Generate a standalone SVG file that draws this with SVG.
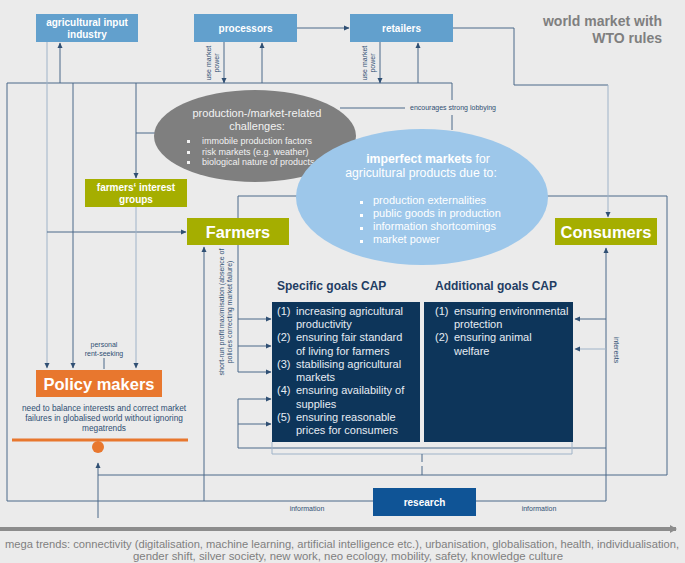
<svg xmlns="http://www.w3.org/2000/svg" width="685" height="563" viewBox="0 0 685 563">
<defs>
<marker id="ah" markerWidth="6" markerHeight="6" refX="5" refY="3" orient="auto" markerUnits="userSpaceOnUse">
<path d="M0,0.5 L5.5,3 L0,5.5 Z" fill="#2f4f73"/>
</marker>
<marker id="big" markerWidth="10" markerHeight="10" refX="6" refY="5" orient="auto" markerUnits="userSpaceOnUse">
<path d="M0,1 L7,5 L0,9 Z" fill="#8c8c8c"/>
</marker>
<style>
.ln{stroke:#4a6889;stroke-width:1;fill:none}
.lt{stroke:#9fb3c8;stroke-width:1;fill:none}
.ar{marker-end:url(#ah)}
.bx{fill:#62a0cd}
.ol{fill:#a5ae00}
.t{font-family:"Liberation Sans",Arial,sans-serif}
.wb{fill:#fff;font-weight:bold;text-anchor:middle}
.sm{fill:#2f4f73;font-size:7px}
.gt{fill:#e6ecf3;font-size:11px}
.hd{fill:#1f3d63;font-size:12px;font-weight:bold}
</style>
</defs>
<rect width="685" height="563" fill="#ebebeb"/>

<g id="connectors">
<path class="ln" d="M7,83 H452 V100 M452,115 V130"/>
<path class="ln" d="M7,83 V501 H373 M476,501 H606"/>
<path class="ln ar" d="M606,501 V248"/>
<path class="ln ar" d="M606,319 H575"/>
<path class="lt ar" d="M606,349 H575"/>
<path class="ln" d="M606,448 H238 V399"/>
<path class="ln ar" d="M238,399 H271"/>
<path class="ln ar" d="M238,424 H271"/>
<path class="ln" d="M238,245 V372"/>
<path class="ln ar" d="M238,319 H271"/>
<path class="ln ar" d="M238,346 H271"/>
<path class="ln ar" d="M238,372 H271"/>
<path class="ln ar" d="M204,501 V247"/>
<path class="ln" d="M238,218 V196 H667 V475 H98"/>
<path class="ln ar" d="M98,518 V463"/>
<path class="lt" d="M272,442 V454 H572 V442"/>
<path class="ln" d="M422,454 V462 M422,466 V475"/>
<path class="ln ar" d="M60,83 V43"/>
<path class="lt ar" d="M47,42 V368"/>
<path class="ln ar" d="M47,232 H186"/>
<path class="ln ar" d="M73,83 V368"/>
<path class="ln ar" d="M136,83 V178"/>
<path class="lt ar" d="M136,207 V368"/>
<path class="ln" d="M136,133 H158"/>
<path class="ln ar" d="M224,42 V83"/>
<path class="ln ar" d="M262,83 V43"/>
<path class="ln ar" d="M380,42 V83"/>
<path class="ln ar" d="M418,83 V43"/>
<path class="ln ar" d="M297,28 H349"/>
<path class="ln" d="M453,28 H514 V85 H608"/>
<path class="lt ar" d="M608,85 V217"/>
<path class="ln" d="M340,108 H405"/>
<path class="ln" d="M104,358 V369"/>
<path d="M0,529 H676" stroke="#8c8c8c" stroke-width="4" marker-end="url(#big)"/>
</g>

<g id="challenges">
<ellipse cx="255" cy="136" rx="101" ry="46" fill="#7f7f7f"/>
<text class="t" fill="#f2f2f2" font-size="11" text-anchor="middle"><tspan x="257" y="117">production-/market-related</tspan><tspan x="257" y="130">challenges:</tspan></text>
<g class="t" fill="#f2f2f2" font-size="9">
<rect x="187" y="140" width="3" height="3"/><text x="202" y="144">immobile production factors</text>
<rect x="187" y="151" width="3" height="3"/><text x="202" y="155">risk markets (e.g. weather)</text>
<rect x="187" y="161" width="3" height="3"/><text x="202" y="165">biological nature of products</text>
</g>
</g>

<g id="imperfect">
<ellipse cx="422" cy="197" rx="126" ry="68" fill="#9dc7ea"/>
<text class="t" fill="#fff" font-size="12.3" text-anchor="middle"><tspan x="428" y="163"><tspan font-weight="bold">imperfect markets</tspan> for</tspan><tspan x="421" y="177">agricultural products due to:</tspan></text>
<g class="t" fill="#fff" font-size="11">
<rect x="360" y="201" width="3" height="3"/><text x="373" y="204">production externalities</text>
<rect x="360" y="214" width="3" height="3"/><text x="373" y="217">public goods in production</text>
<rect x="360" y="227" width="3" height="3"/><text x="373" y="230">information shortcomings</text>
<rect x="360" y="240" width="3" height="3"/><text x="373" y="243">market power</text>
</g>
</g>

<g id="agri-input">
<rect class="bx" x="36" y="14" width="102" height="28"/>
<text class="t wb" font-size="10"><tspan x="87" y="26">agricultural input</tspan><tspan x="87" y="38">industry</tspan></text>
</g>
<g id="processors">
<rect class="bx" x="194" y="14" width="103" height="28"/>
<text class="t wb" font-size="10" x="245.5" y="32">processors</text>
</g>
<g id="retailers">
<rect class="bx" x="350" y="14" width="103" height="28"/>
<text class="t wb" font-size="10" x="401.5" y="32">retailers</text>
</g>
<g id="world-market">
<text class="t" fill="#7f7f7f" font-size="14" font-weight="bold" text-anchor="end"><tspan x="662" y="26">world market with</tspan><tspan x="662" y="43">WTO rules</tspan></text>
</g>

<g id="labels" class="t">
<text class="sm" text-anchor="middle" transform="translate(210.5,63) rotate(-90)"><tspan x="0" y="0">use market</tspan><tspan x="0" y="8">power</tspan></text>
<text class="sm" text-anchor="middle" transform="translate(366.5,63) rotate(-90)"><tspan x="0" y="0">use market</tspan><tspan x="0" y="8">power</tspan></text>
<text class="sm" x="410" y="110">encourages strong lobbying</text>
<text class="sm" text-anchor="middle" transform="translate(223.5,312) rotate(-90)"><tspan x="0" y="0">short-run profit maximisation (absence of</tspan><tspan x="0" y="8.5">policies correcting market failure)</tspan></text>
<text class="sm" text-anchor="middle" transform="translate(614,350) rotate(90)">interests</text>
<text class="sm" text-anchor="middle"><tspan x="104" y="347">personal</tspan><tspan x="104" y="356">rent-seeking</tspan></text>
<text class="sm" x="307" y="511" text-anchor="middle">information</text>
<text class="sm" x="539" y="511" text-anchor="middle">information</text>
</g>

<g id="interest-groups">
<rect class="ol" x="85" y="179" width="102" height="28"/>
<text class="t wb" font-size="10"><tspan x="136" y="191">farmers‘ interest</tspan><tspan x="136" y="203">groups</tspan></text>
</g>
<g id="farmers">
<rect class="ol" x="187" y="218" width="102" height="27"/>
<text class="t wb" font-size="16.3" x="238" y="237.5">Farmers</text>
</g>
<g id="consumers">
<rect class="ol" x="555" y="218" width="102" height="27"/>
<text class="t wb" font-size="16.5" x="606" y="237.5">Consumers</text>
</g>

<g id="policy-makers">
<rect x="36" y="370" width="126" height="27" fill="#e8772e"/>
<text class="t wb" font-size="16.5" x="99" y="389.5">Policy makers</text>
<text class="t" fill="#2f4f73" font-size="8.3" text-anchor="middle"><tspan x="104" y="411">need to balance interests and correct market</tspan><tspan x="104" y="421">failures in globalised world without ignoring</tspan><tspan x="104" y="431">megatrends</tspan></text>
<rect x="12" y="438.5" width="176" height="3" fill="#e8772e"/>
<circle cx="98" cy="447" r="6" fill="#e8772e"/>
</g>

<g id="specific-goals">
<text class="t hd" x="277" y="290">Specific goals CAP</text>
<rect x="272" y="302" width="148" height="140" fill="#0d355a"/>
<g class="t gt">
<text x="277" y="315">(1)</text><text x="296" y="315">increasing agricultural</text>
<text x="296" y="328">productivity</text>
<text x="277" y="341">(2)</text><text x="296" y="341">ensuring fair standard</text>
<text x="296" y="355">of living for farmers</text>
<text x="277" y="368">(3)</text><text x="296" y="368">stabilising agricultural</text>
<text x="296" y="381">markets</text>
<text x="277" y="394">(4)</text><text x="296" y="394">ensuring availability of</text>
<text x="296" y="408">supplies</text>
<text x="277" y="421">(5)</text><text x="296" y="421">ensuring reasonable</text>
<text x="296" y="434">prices for consumers</text>
</g>
</g>

<g id="additional-goals">
<text class="t hd" x="435" y="290">Additional goals CAP</text>
<rect x="424" y="302" width="149" height="140" fill="#0d355a"/>
<g class="t gt">
<text x="435" y="315">(1)</text><text x="454" y="315">ensuring environmental</text>
<text x="454" y="328">protection</text>
<text x="435" y="341">(2)</text><text x="454" y="341">ensuring animal</text>
<text x="454" y="355">welfare</text>
</g>
</g>

<g id="research">
<rect x="373" y="488" width="103" height="28" fill="#0f5496"/>
<text class="t wb" font-size="10" x="424.5" y="505.5">research</text>
</g>

<g id="megatrends">
<text class="t" fill="#7f7f7f" font-size="10.8" text-anchor="middle" x="342" y="548" textLength="674" lengthAdjust="spacingAndGlyphs">mega trends: connectivity (digitalisation, machine learning, artificial intelligence etc.), urbanisation, globalisation, health, individualisation,</text>
<text class="t" fill="#7f7f7f" font-size="10.8" text-anchor="middle" x="348" y="560" textLength="430" lengthAdjust="spacingAndGlyphs">gender shift, silver society, new work, neo ecology, mobility, safety, knowledge culture</text>
</g>
</svg>
